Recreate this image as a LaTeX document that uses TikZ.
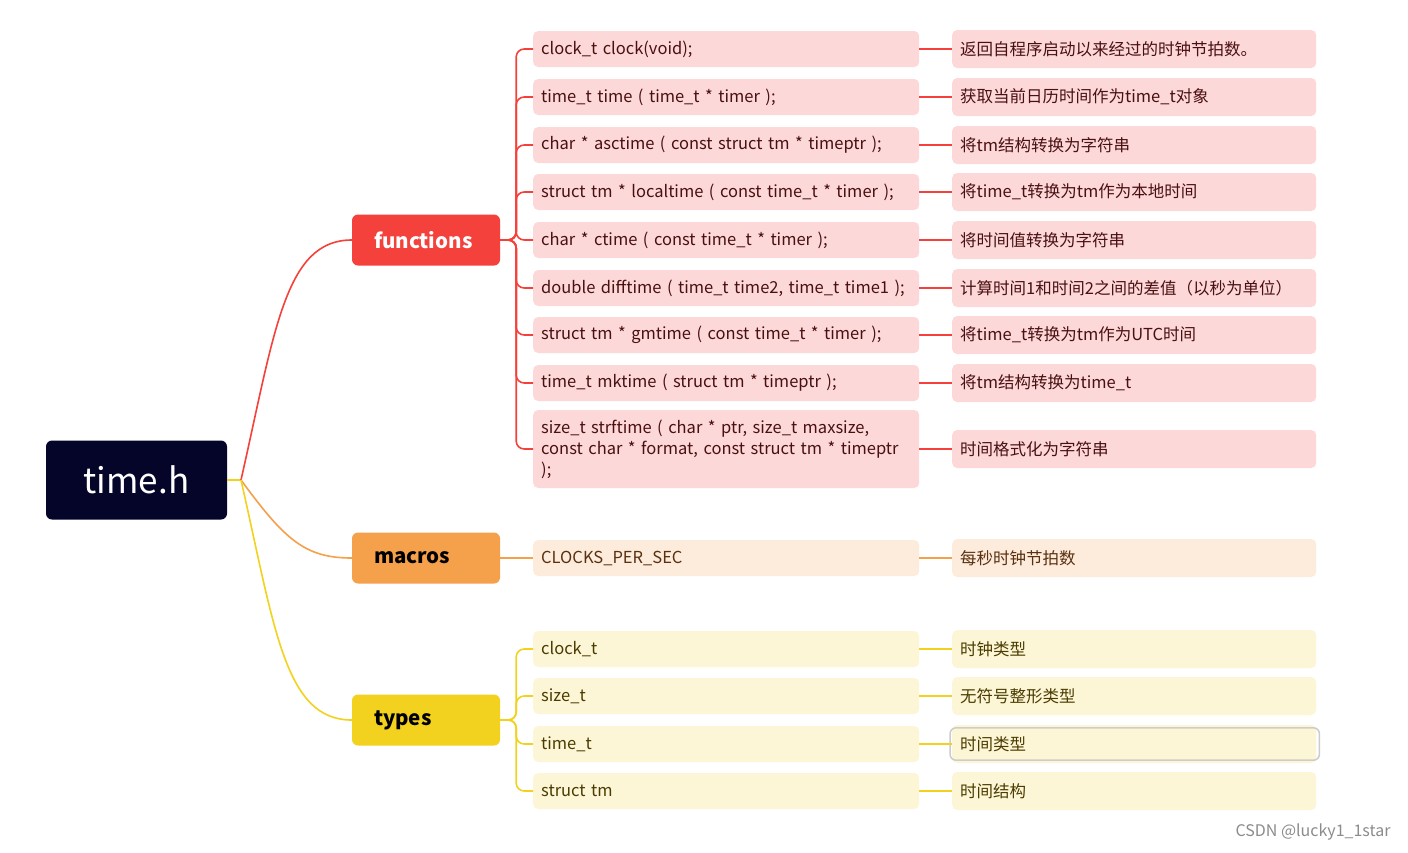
\documentclass[tikz,border=0pt]{standalone}
\usepackage{fontspec}
\setmainfont{Noto Sans CJK SC}
\begin{document}
\begin{tikzpicture}[x=1pt,y=-1pt,
  box/.style={rounded corners=5pt,minimum height=36pt,inner xsep=8pt,anchor=west,align=left,font=\fontsize{16.5}{21}\selectfont},
  fl/.style={box,fill=fpink,text=ftext,text width=370pt,minimum width=386pt},
  fr/.style={box,fill=fpink,text=ftext,text width=348pt,minimum width=364pt,minimum height=38pt},
  ml/.style={fl,fill=mpeach,text=mtext},
  mr/.style={fr,fill=mpeach,text=mtext},
  tl/.style={fl,fill=ycream,text=ytext},
  tr/.style={fr,fill=ycream,text=ytext},
  br/.style={rounded corners=6pt,minimum width=148pt,minimum height=51pt,inner xsep=22pt,text width=104pt,align=left,font=\fontsize{20.5}{24}\selectfont\bfseries},
  fc/.style={draw=fred,line width=1.6pt},
  mc/.style={draw=morange,line width=1.6pt},
  yc/.style={draw=yyellow,line width=1.6pt}]
\definecolor{fred}{HTML}{F5413B}
\definecolor{morange}{HTML}{F5A04B}
\definecolor{yyellow}{HTML}{F2D21F}
\definecolor{fpink}{HTML}{FDD8D8}
\definecolor{mpeach}{HTML}{FDEBDC}
\definecolor{ycream}{HTML}{FDF6D6}
\definecolor{ftext}{HTML}{4A1010}
\definecolor{mtext}{HTML}{5A3010}
\definecolor{ytext}{HTML}{4A3C00}
\definecolor{navy}{HTML}{05052A}
\useasboundingbox (0,0) rectangle (1408,852);
\fill[white] (0,0) rectangle (1408,852);

\node[rounded corners=6pt,fill=navy,text=white,minimum width=181pt,minimum height=79pt,font=\fontsize{35}{40}\selectfont] (root) at (136.5,480) {time.h};
\node[br,fill=fred,text=white] (fn) at (426,240) {functions};
\node[br,fill=morange,text=black] (mac) at (426,558) {macros};
\node[br,fill=yyellow,text=black] (ty) at (426,720) {types};

\coordinate (rj) at (241,480);
\draw[yc] (root.east) -- (rj);
\draw[fc] (rj) .. controls (275,330) and (285,240) .. (fn.west);
\draw[mc] (rj) .. controls (285,540) and (305,558) .. (mac.west);
\draw[yc] (rj) .. controls (275,630) and (285,720) .. (ty.west);

% functions
\node[fl] (f1) at (533,49) {clock\_t clock(void);};
\node[fl] (f2) at (533,97) {time\_t time ( time\_t * timer );};
\node[fl] (f3) at (533,145) {char * asctime ( const struct tm * timeptr );};
\node[fl] (f4) at (533,192) {struct tm * localtime ( const time\_t * timer );};
\node[fl] (f5) at (533,240) {char * ctime ( const time\_t * timer );};
\node[fl] (f6) at (533,288) {double difftime ( time\_t time2, time\_t time1 );};
\node[fl] (f7) at (533,335) {struct tm * gmtime ( const time\_t * timer );};
\node[fl] (f8) at (533,383) {time\_t mktime ( struct tm * timeptr );};
\node[fl,minimum height=78pt] (f9) at (533,449) {size\_t strftime ( char * ptr, size\_t maxsize,\\const char * format, const struct tm * timeptr\\);};
\node[fr] (g1) at (952,49) {返回自程序启动以来经过的时钟节拍数。};
\node[fr] (g2) at (952,97) {获取当前日历时间作为time\_t对象};
\node[fr] (g3) at (952,145) {将tm结构转换为字符串};
\node[fr] (g4) at (952,192) {将time\_t转换为tm作为本地时间};
\node[fr] (g5) at (952,240) {将时间值转换为字符串};
\node[fr] (g6) at (952,288) {计算时间1和时间2之间的差值（以秒为单位）};
\node[fr] (g7) at (952,335) {将time\_t转换为tm作为UTC时间};
\node[fr] (g8) at (952,383) {将tm结构转换为time\_t};
\node[fr] (g9) at (952,449) {时间格式化为字符串};
\foreach \i in {1,...,9}{
  \draw[fc,rounded corners=8pt] (fn.east) -- ++(16,0) |- (f\i.west);
  \draw[fc] (f\i.east) -- (g\i.west);
}

% macros
\node[ml] (m1) at (533,558) {CLOCKS\_PER\_SEC};
\node[mr] (n1) at (952,558) {每秒时钟节拍数};
\draw[mc] (mac.east) -- (m1.west);
\draw[mc] (m1.east) -- (n1.west);

% types
\node[tl] (t1) at (533,649) {clock\_t};
\node[tl] (t2) at (533,696) {size\_t};
\node[tl] (t3) at (533,744) {time\_t};
\node[tl] (t4) at (533,791) {struct tm};
\node[tr] (u1) at (952,649) {时钟类型};
\node[tr] (u2) at (952,696) {无符号整形类型};
\node[tr] (u3) at (952,744) {时间类型};
\node[tr] (u4) at (952,791) {时间结构};
\draw[draw=black!20,line width=1.5pt,rounded corners=6pt] ([xshift=-2pt,yshift=-3pt]u3.north west) rectangle ([xshift=3pt,yshift=3pt]u3.south east);
\foreach \i in {1,...,4}{
  \draw[yc,rounded corners=8pt] (ty.east) -- ++(16,0) |- (t\i.west);
  \draw[yc] (t\i.east) -- (u\i.west);
}

\node[anchor=east,text=black!45,font=\fontsize{16}{18}\selectfont] (wm) at (1394,832) {CSDN @lucky1\_1star};
\end{tikzpicture}
\end{document}
